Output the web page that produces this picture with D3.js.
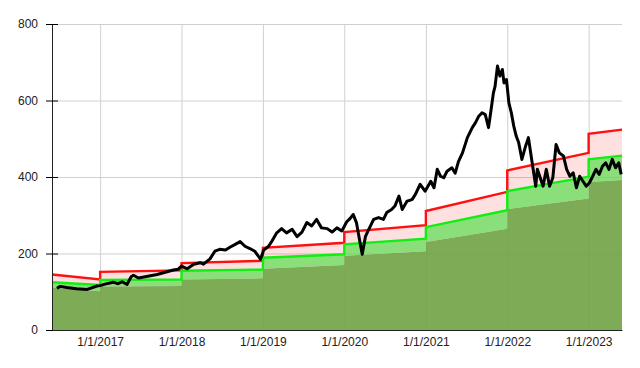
<!DOCTYPE html>
<html>
  <head>
    <meta charset="utf-8">
    <title>Price vs value bands</title>
    <script src="https://d3js.org/d3.v7.min.js"></script>
    <style>
      body { margin: 0; background: #fff; }
      text { font-family: "Liberation Sans", Arial, sans-serif; }
    </style>
  </head>
  <body>
    <svg width="640" height="368"></svg>

    <script>
      // yearly segments (decimal years) and the three band levels at start / end of each
      var segStart = [2016.41, 2017, 2018, 2019, 2020, 2021, 2022, 2023];
      var segEnd   = [2017, 2018, 2019, 2020, 2021, 2022, 2023, 2023.41];
      var redStart   = [145, 152, 175, 215, 256, 311, 417, 513];
      var redEnd     = [132, 156, 181, 228, 274, 361, 463, 524];
      var greenStart = [125, 131, 155, 189, 224, 269, 363, 446];
      var greenEnd   = [118, 132, 158, 198, 239, 313, 401, 456];
      var darkStart  = [111, 114, 132, 160, 194, 230, 316, 387];
      var darkEnd    = [101, 115, 135, 170, 206, 265, 344, 392];

      // price line
      var priceT = [2016.47,2016.51,2016.59,2016.71,2016.84,2016.88,2016.96,
        2017.00,2017.06,2017.16,2017.22,2017.27,2017.33,2017.38,2017.41,2017.47,2017.57,2017.70,2017.80,2017.90,2017.96,
        2018.00,2018.07,2018.15,2018.23,2018.27,2018.35,2018.41,2018.47,2018.54,2018.60,2018.66,2018.72,2018.78,2018.84,2018.90,2018.97,
        2019.01,2019.07,2019.11,2019.17,2019.23,2019.29,2019.36,2019.42,2019.48,2019.54,2019.60,2019.66,2019.72,2019.79,2019.85,2019.91,2019.97,
        2020.03,2020.07,2020.11,2020.15,2020.19,2020.22,2020.26,2020.30,2020.36,2020.42,2020.48,2020.52,2020.58,2020.62,2020.67,2020.71,2020.77,2020.83,2020.87,2020.93,2020.99,
        2021.06,2021.10,2021.14,2021.18,2021.22,2021.26,2021.32,2021.36,2021.40,2021.45,2021.51,2021.57,2021.61,2021.65,2021.69,2021.73,2021.77,2021.79,2021.83,2021.85,2021.88,2021.91,2021.94,2021.96,2021.99,
        2022.02,2022.05,2022.08,2022.11,2022.14,2022.18,2022.22,2022.26,2022.30,2022.35,2022.37,2022.44,2022.48,2022.52,2022.56,2022.60,2022.64,2022.69,2022.73,2022.77,2022.81,2022.85,2022.89,2022.93,2022.97,
        2023.01,2023.05,2023.09,2023.13,2023.17,2023.21,2023.25,2023.29,2023.33,2023.37,2023.40];
      var priceV = [109,114,111,108,106,109,115,
        116,120,125,121,126,119,139,143,136,140,145,151,157,159,
        167,160,172,176,172,186,206,211,209,217,224,231,219,213,206,185,
        209,219,232,254,265,254,263,244,256,281,272,289,267,265,256,267,259,
        283,291,302,280,232,198,245,263,289,294,289,307,315,324,350,315,337,341,354,381,363,
        389,372,420,402,398,415,424,410,440,463,503,529,542,559,568,563,529,559,620,637,690,664,681,646,655,
        594,568,533,507,490,446,477,503,446,376,420,376,420,376,398,485,463,455,420,402,411,372,402,389,376,
        385,402,420,407,428,437,420,446,424,437,407];

      var yTicks = [0, 200, 400, 600, 800];
      var xTickYears = [2017, 2018, 2019, 2020, 2021, 2022, 2023];

      // decimal year -> Date
      function toDate(y) {
        var yr = Math.floor(y);
        var s = new Date(yr, 0, 1), e = new Date(yr + 1, 0, 1);
        return new Date(+s + (y - yr) * (e - s));
      }

      var margin = { top: 24, right: 18, bottom: 38, left: 52 };
      var width = 640 - margin.left - margin.right;
      var height = 368 - margin.top - margin.bottom;

      var svg = d3.select("svg");
      var g = svg.append("g").attr("transform", "translate(" + margin.left + "," + margin.top + ")");

      var x = d3.scaleTime()
        .domain([toDate(segStart[0]), toDate(segEnd[segEnd.length - 1])])
        .range([0, width]);
      var y = d3.scaleLinear().domain([0, 800]).range([height, 0]);

      // rows for the bands: two per segment so the jump at 1/1 is vertical
      var bands = [];
      segStart.forEach(function(s, i) {
        bands.push({ t: toDate(s), red: redStart[i], green: greenStart[i], dark: darkStart[i] });
        bands.push({ t: toDate(segEnd[i]), red: redEnd[i], green: greenEnd[i], dark: darkEnd[i] });
      });
      var price = priceT.map(function(t, i) { return { t: toDate(t), v: priceV[i] }; });

      // grid
      g.append("g").selectAll("line").data(yTicks.slice(1)).join("line")
        .attr("x1", 0).attr("x2", width)
        .attr("y1", function(d) { return y(d) + 0.5; }).attr("y2", function(d) { return y(d) + 0.5; })
        .attr("stroke", "#d0d0d0");
      g.append("g").selectAll("line").data(xTickYears).join("line")
        .attr("x1", function(d) { return x(new Date(d, 0, 1)) + 0.5; })
        .attr("x2", function(d) { return x(new Date(d, 0, 1)) + 0.5; })
        .attr("y1", 0).attr("y2", height)
        .attr("stroke", "#d0d0d0");

      // bands
      g.append("path").datum(bands)
        .attr("fill", "#ff0000").attr("fill-opacity", 0.12)
        .attr("d", d3.area().x(function(d) { return x(d.t); })
          .y0(function(d) { return y(d.green); }).y1(function(d) { return y(d.red); }));
      g.append("path").datum(bands)
        .attr("fill", "#6ad655").attr("fill-opacity", 0.78)
        .attr("d", d3.area().x(function(d) { return x(d.t); })
          .y0(function(d) { return y(d.dark); }).y1(function(d) { return y(d.green); }));
      g.append("path").datum(bands)
        .attr("fill", "#6fa244").attr("fill-opacity", 0.9)
        .attr("d", d3.area().x(function(d) { return x(d.t); })
          .y0(y(0)).y1(function(d) { return y(d.dark); }));

      // band edges
      g.append("path").datum(bands)
        .attr("fill", "none").attr("stroke", "#ff1010").attr("stroke-width", 2.4)
        .attr("d", d3.line().x(function(d) { return x(d.t); }).y(function(d) { return y(d.red); }));
      g.append("path").datum(bands)
        .attr("fill", "none").attr("stroke", "#11ee11").attr("stroke-width", 2.4)
        .attr("d", d3.line().x(function(d) { return x(d.t); }).y(function(d) { return y(d.green); }));

      // price
      g.append("path").datum(price)
        .attr("fill", "none").attr("stroke", "#000").attr("stroke-width", 3)
        .attr("stroke-linejoin", "round")
        .attr("d", d3.line().x(function(d) { return x(d.t); }).y(function(d) { return y(d.v); }));

      // axes
      var yAxis = g.append("g")
        .call(d3.axisLeft(y).tickValues(yTicks).tickSize(6).tickSizeOuter(0).tickPadding(8));
      yAxis.selectAll(".tick line").attr("x1", 6);
      var xAxis = g.append("g")
        .attr("transform", "translate(0," + height + ")")
        .call(d3.axisBottom(x)
          .tickValues(xTickYears.map(function(d) { return new Date(d, 0, 1); }))
          .tickFormat(d3.timeFormat("%-m/%-d/%Y"))
          .tickSize(0).tickPadding(7));
      svg.selectAll(".tick text").attr("font-size", 12).attr("fill", "#222")
        .attr("font-family", "'Liberation Sans', Arial, sans-serif");
      svg.selectAll(".domain").attr("stroke", "#222");
    </script>
  </body>
</html>
